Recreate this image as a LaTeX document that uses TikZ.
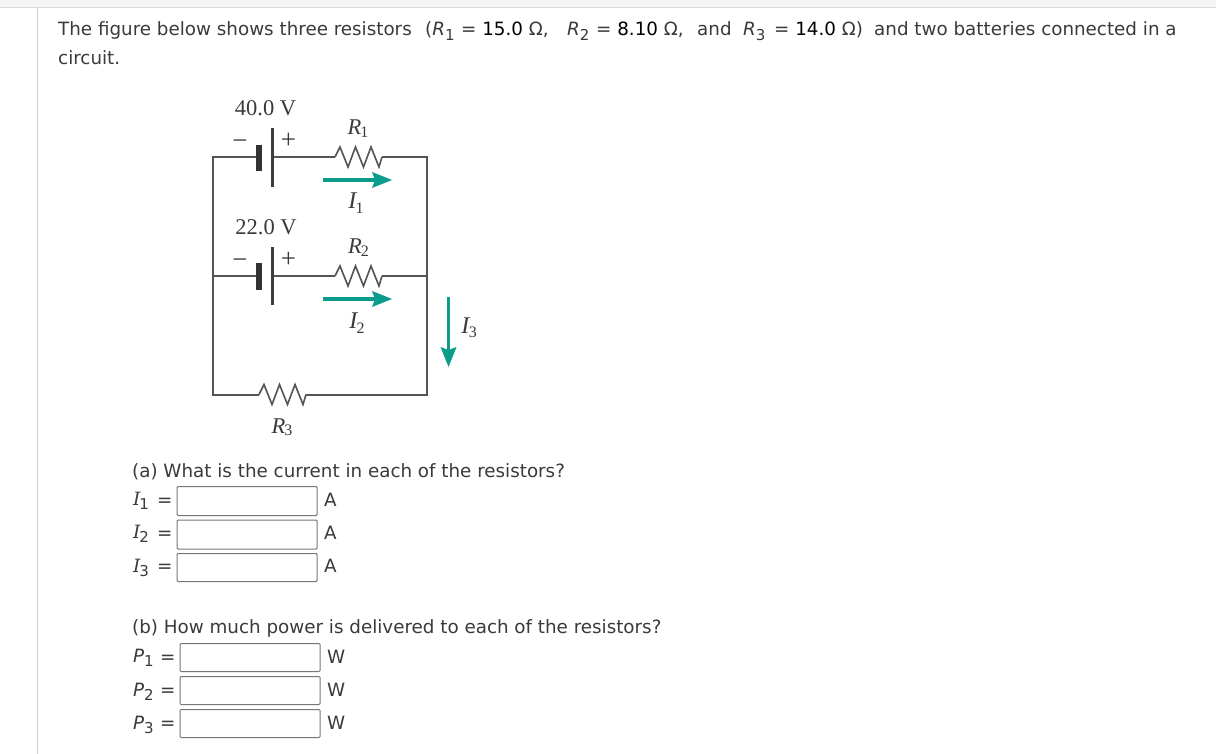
\documentclass[tikz,border=0pt]{standalone}
\usepackage{fontspec}
\setmainfont{DejaVu Sans}
\newfontfamily\figfont{Liberation Serif}
\newfontfamily\mathfont{DejaVu Serif}
\definecolor{txt}{HTML}{3A3A3A}
\definecolor{wire}{HTML}{555555}
\definecolor{teal1}{HTML}{0B9C8C}
\definecolor{boxc}{HTML}{777777}
\newcommand{\qm}[2]{{\itshape #1}\raisebox{-4.5pt}{\fontsize{15}{15}\selectfont #2}}
\newcommand{\qi}[2]{{\mathfont\itshape #1}\kern-1pt\raisebox{-4.5pt}{\fontsize{15}{15}\selectfont #2}}
\newcommand{\fm}[2]{{\itshape #1}\kern-1pt\raisebox{-2.5pt}{\fontsize{16}{16}\selectfont #2}}
\newcommand{\fc}[2]{{\fontsize{24}{24}\selectfont\itshape #1}\kern-0.5pt\raisebox{-5pt}{\fontsize{16}{16}\selectfont #2}}
\tikzset{
  qtext/.style={anchor=base west,inner sep=0pt,text=txt,font=\fontsize{18.3}{20}\selectfont},
  figtext/.style={anchor=base,inner sep=0pt,text=txt,font=\figfont\fontsize{22.5}{24}\selectfont},
  signtext/.style={anchor=base,inner sep=0pt,text=txt,font=\figfont\fontsize{27}{28}\selectfont},
  wirepath/.style={draw=wire,line width=2pt,line join=miter},
  zigzag/.style={draw=wire,line width=1.6pt,line join=miter},
  thinplate/.style={draw=wire!70!black,line width=2.7pt},
  thickplate/.style={draw=black!80,line width=6pt},
  curarrow/.style={draw=teal1,line width=3.8pt},
  curhead/.style={fill=teal1,draw=none},
  ansbox/.style={draw=boxc,line width=1pt,fill=white,rounded corners=1pt,minimum width=140pt,inner sep=0pt,anchor=north west},
}
\begin{document}
\begin{tikzpicture}[x=1pt,y=-1pt]
\useasboundingbox (0,0) rectangle (1216,754);
\fill[white] (0,0) rectangle (1216,754);
\fill[black!4] (0,0) rectangle (1216,7);
\draw[black!14,line width=1pt] (0,7.5) -- (1216,7.5);
\draw[black!20,line width=1pt] (37.5,8) -- (37.5,754);
% question text
\node[qtext] (l1a) at (58,36) {The figure below shows three resistors};
\node[qtext] (l1b) at (425,36) {(\qm{R}{1}};
\node[qtext] (l1c) at (461,36) {= {\color{black}15.0} Ω,};
\node[qtext] (l1d) at (567,36) {\qm{R}{2}};
\node[qtext] (l1e) at (596,36) {= {\color{black}8.10} Ω,};
\node[qtext] (l1f) at (697,36) {and};
\node[qtext] (l1g) at (743,36) {\qm{R}{3}};
\node[qtext] (l1h) at (774,36) {= {\color{black}14.0} Ω)};
\node[qtext] (l1i) at (874,36) {and two batteries connected in a};
\node[qtext] (l2) at (58,65) {circuit.};
% circuit corners
\coordinate (tl) at (212.5,157);
\coordinate (tr) at (427,157);
\coordinate (ml) at (212.5,276);
\coordinate (mr) at (427,276);
\coordinate (bl) at (212.5,394.5);
\coordinate (br) at (427,394.5);
\coordinate (b1t) at (258.7,145); \coordinate (b1b) at (258.7,171);
\coordinate (b1p) at (272.3,128); \coordinate (b1q) at (272.3,187);
\coordinate (b2t) at (258.7,263); \coordinate (b2b) at (258.7,290);
\coordinate (b2p) at (272.3,247); \coordinate (b2q) at (272.3,305);
\coordinate (r1a) at (335,157); \coordinate (r1b) at (382,157);
\coordinate (r2a) at (335,276); \coordinate (r2b) at (382,276);
\coordinate (r3a) at (259,394.5); \coordinate (r3b) at (306,394.5);
\draw[wirepath] (r1b) -- (tr) -- (br) -- (r3b);
\draw[wirepath] (r3a) -- (bl) -- (tl) -- (b1b |- tl);
\draw[wirepath] (b1p |- tl) -- (r1a);
\draw[wirepath] (ml) -- (b2b |- ml);
\draw[wirepath] (b2p |- ml) -- (r2a);
\draw[wirepath] (r2b) -- (mr);
% resistors
\draw[zigzag] (r1a) -- ++(5,-10) -- ++(8,20) -- ++(7.5,-20) -- ++(8,20) -- ++(7.5,-20) -- ++(8,20) -- (r1b);
\draw[zigzag] (r2a) -- ++(5,-10) -- ++(8,20) -- ++(7.5,-20) -- ++(8,20) -- ++(7.5,-20) -- ++(8,20) -- (r2b);
\draw[zigzag] (r3a) -- ++(5,-10) -- ++(8,20) -- ++(7.5,-20) -- ++(8,20) -- ++(7.5,-20) -- ++(8,20) -- (r3b);
% batteries
\draw[thickplate] (b1t) -- (b1b);
\draw[thinplate] (b1p) -- (b1q);
\draw[thickplate] (b2t) -- (b2b);
\draw[thinplate] (b2p) -- (b2q);
% current arrows
\coordinate (a1s) at (323,180); \coordinate (a1e) at (392,180);
\coordinate (a2s) at (323,299); \coordinate (a2e) at (392,299);
\coordinate (a3s) at (448.5,297); \coordinate (a3e) at (448.5,367);
\draw[curarrow] (a1s) -- ++(55,0);
\fill[curhead] (a1e) -- ++(-20,-8) -- ++(3,8) -- ++(-3,8) -- cycle;
\draw[curarrow] (a2s) -- ++(55,0);
\fill[curhead] (a2e) -- ++(-20,-8) -- ++(3,8) -- ++(-3,8) -- cycle;
\draw[curarrow] (a3s) -- ++(0,55);
\fill[curhead] (a3e) -- ++(-8,-20) -- ++(8,3) -- ++(8,-3) -- cycle;
% circuit labels
\node[figtext] (v1) at (265.5,115.5) {40.0 V};
\node[figtext] (v2) at (266,234.5) {22.0 V};
\node[signtext] (m1) at (240,149.5) {−};
\node[signtext] (p1) at (288.5,149) {+};
\node[signtext] (m2) at (240,268.5) {−};
\node[signtext] (p2) at (288.5,268) {+};
\node[figtext] (lr1) at (358,135) {\fm{R}{1}};
\node[figtext] (lr2) at (358.5,254) {\fm{R}{2}};
\node[figtext] (lr3) at (282,433) {\fm{R}{3}};
\node[figtext] (li1) at (356,209) {\fc{I}{1}};
\node[figtext] (li2) at (357,328) {\fc{I}{2}};
\node[figtext] (li3) at (469,333) {\fc{I}{3}};
% part a
\node[qtext] (qa) at (132,477) {(a) What is the current in each of the resistors?};
\node[qtext] (i1) at (133,505) {\qi{I}{1}};
\node[qtext] (i2) at (133,538) {\qi{I}{2}};
\node[qtext] (i3) at (133,572) {\qi{I}{3}};
\node[qtext] (e1) at (157,506) {=};
\node[qtext] (e2) at (157,539) {=};
\node[qtext] (e3) at (157,572) {=};
\node[ansbox,minimum height=29pt] (ba1) at (176.7,486) {};
\node[ansbox,minimum height=29pt] (ba2) at (176.7,519.5) {};
\node[ansbox,minimum height=28pt] (ba3) at (176.7,553) {};
\node[qtext] (ua1) at (324,506) {A};
\node[qtext] (ua2) at (324,539) {A};
\node[qtext] (ua3) at (324,572.5) {A};
% part b
\node[qtext] (qb) at (132,633) {(b) How much power is delivered to each of the resistors?};
\node[qtext] (pl1) at (133,662) {\qm{P}{1}};
\node[qtext] (pl2) at (133,696) {\qm{P}{2}};
\node[qtext] (pl3) at (133,729) {\qm{P}{3}};
\node[qtext] (f1) at (160,663) {=};
\node[qtext] (f2) at (160,696) {=};
\node[qtext] (f3) at (160,729) {=};
\node[ansbox,minimum height=28pt] (bb1) at (179.5,643) {};
\node[ansbox,minimum height=28pt] (bb2) at (179.5,676) {};
\node[ansbox,minimum height=28pt] (bb3) at (179.5,709) {};
\node[qtext] (ub1) at (327,663) {W};
\node[qtext] (ub2) at (327,696) {W};
\node[qtext] (ub3) at (327,729) {W};
\end{tikzpicture}
\end{document}
